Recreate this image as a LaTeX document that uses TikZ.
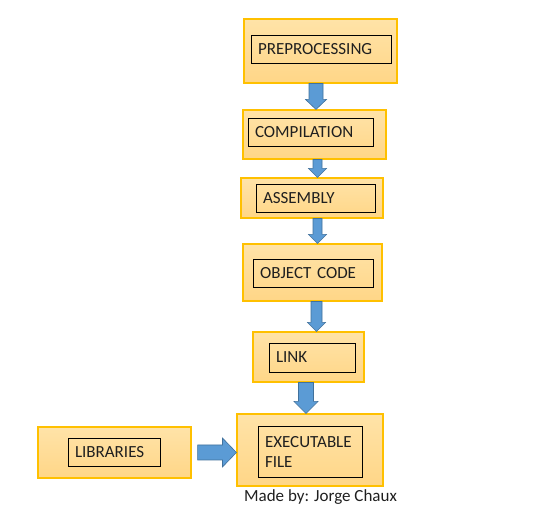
\documentclass[tikz,border=0pt]{standalone}
\usepackage{fontspec}
\setmainfont{Carlito}
\usetikzlibrary{calc}
\definecolor{boxtop}{RGB}{255,227,168}
\definecolor{boxbot}{RGB}{255,214,135}
\definecolor{boxline}{RGB}{255,192,0}
\definecolor{arrfill}{RGB}{91,155,213}
\definecolor{arrline}{RGB}{65,113,156}
\tikzset{
  outerbox/.style={draw=boxline, line width=1.1pt, top color=boxtop, bottom color=boxbot, inner sep=0pt},
  innerbox/.style={draw=black, line width=0.8pt, inner xsep=7pt, inner ysep=0pt, align=left,
     font=\fontsize{17}{20}\selectfont, text=black!88},
  barrow/.style={draw=arrline, fill=arrfill, line width=0.6pt, line join=miter},
  credit/.style={font=\fontsize{17}{20}\selectfont, text=black!88}
}
% down block arrow: #1 centre x (pt), #2 upper node anchor, #3 lower node anchor,
% #4 shaft half width, #5 head half width, #6 head length
\newcommand\downblk[6]{%
  \draw[barrow] let \p1=(#2), \p2=(#3) in
    ({#1pt-#4pt},\y1) -- ({#1pt+#4pt},\y1) -- ({#1pt+#4pt},{\y2+#6pt}) -- ({#1pt+#5pt},{\y2+#6pt})
    -- (#1pt,\y2) -- ({#1pt-#5pt},{\y2+#6pt}) -- ({#1pt-#4pt},{\y2+#6pt}) -- cycle;}
\begin{document}
\begin{tikzpicture}[x=1pt,y=-1pt]
\useasboundingbox (0,0) rectangle (560,518);
% outer boxes
\node[outerbox, minimum width=153pt, minimum height=64pt] (b1) at (320.5,51) {};
\node[outerbox, minimum width=143pt, minimum height=49pt] (b2) at (314.5,134.5) {};
\node[outerbox, minimum width=142pt, minimum height=40pt] (b3) at (312,198) {};
\node[outerbox, minimum width=139pt, minimum height=57pt] (b4) at (312.5,272.5) {};
\node[outerbox, minimum width=111pt, minimum height=50pt] (b5) at (308.5,357) {};
\node[outerbox, minimum width=146pt, minimum height=72pt] (b6) at (310,450) {};
\node[outerbox, minimum width=153pt, minimum height=51pt] (b7) at (114.5,452.5) {};
% inner boxes with labels
\node[innerbox, text width=126pt, minimum height=28pt] (i1) at (321,49) {PREPROCESSING};
\node[innerbox, text width=111pt, minimum height=28pt] (i2) at (310.5,132) {COMPILATION};
\node[innerbox, text width=105pt, minimum height=28pt] (i3) at (315.5,198) {ASSEMBLY};
\node[innerbox, text width=106pt, minimum height=28pt] (i4) at (313,273) {OBJECT CODE};
\node[innerbox, text width=72pt, minimum height=29pt] (i5) at (312,357.5) {LINK};
\node[innerbox, text width=90pt, minimum height=51pt] (i6) at (310,451.5) {EXECUTABLE\\FILE};
\node[innerbox, text width=78pt, minimum height=28pt] (i7) at (114,452) {LIBRARIES};
% connectors
\downblk{316}{b1.south}{b2.north}{7}{10.5}{10}
\downblk{317.5}{b2.south}{b3.north}{4.5}{9}{9}
\downblk{317.5}{b3.south}{b4.north}{4.5}{9}{9}
\downblk{316.5}{b4.south}{b5.north}{5.5}{9}{9}
\downblk{306}{b5.south}{b6.north}{7.5}{12}{12}
\draw[barrow] let \p1=(b7.east), \p2=(b6.west) in
  ({\x1+6pt},-445pt) -- ({\x2-14pt},-445pt) -- ({\x2-14pt},-438pt) -- (\x2,-452.5pt)
  -- ({\x2-14pt},-467pt) -- ({\x2-14pt},-460pt) -- ({\x1+6pt},-460pt) -- cycle;
% credit
\node[credit, anchor=north] (cr) at (320.5,486) {Made by: Jorge Chaux};
\end{tikzpicture}
\end{document}
